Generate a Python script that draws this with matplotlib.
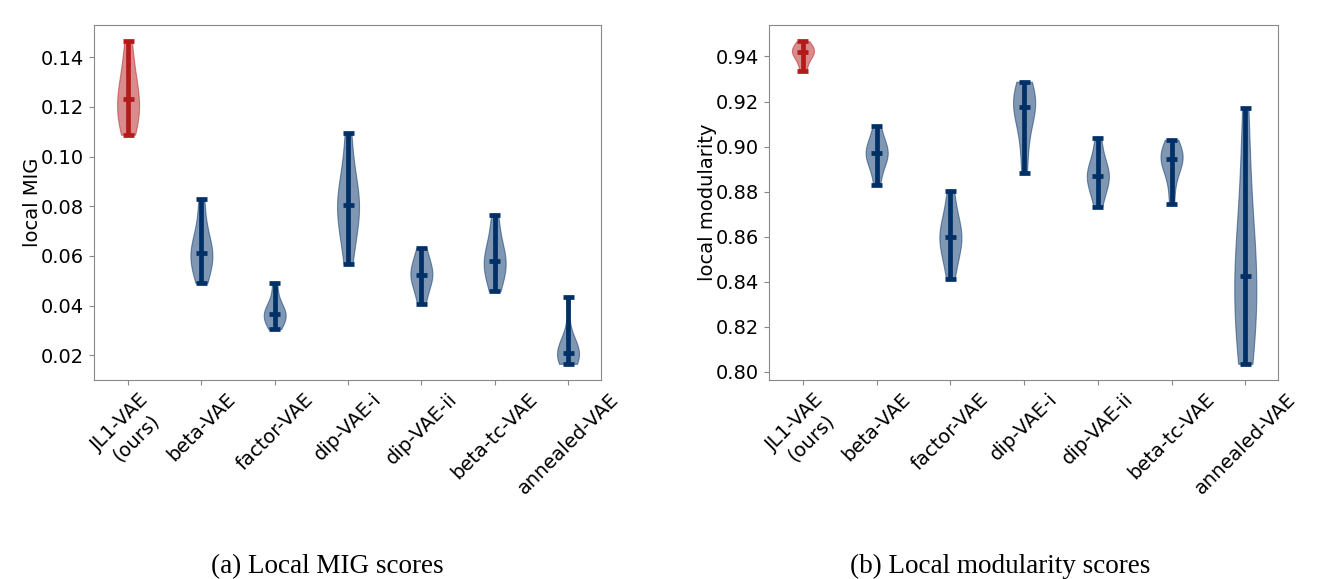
import matplotlib
matplotlib.use('Agg')
import matplotlib.pyplot as plt

# METHOD NAMES
methods = ['JL1-VAE\n(ours)', 'beta-VAE', 'factor-VAE', 'dip-VAE-i', 'dip-VAE-ii', 'beta-tc-VAE', 'annealed-VAE']

# LOCAL MIG SCORES PER METHOD (estimated runs)
mig_jl1 = [0.1088, 0.1135, 0.1175, 0.1210, 0.1252, 0.1290, 0.1360, 0.1465]
mig_beta = [0.0491, 0.0545, 0.0580, 0.0605, 0.0621, 0.0650, 0.0720, 0.0831]
mig_factor = [0.0305, 0.0330, 0.0350, 0.0362, 0.0370, 0.0385, 0.0420, 0.0491]
mig_dip1 = [0.0569, 0.0680, 0.0750, 0.0795, 0.0813, 0.0860, 0.0940, 0.1095]
mig_dip2 = [0.0406, 0.0460, 0.0500, 0.0518, 0.0530, 0.0555, 0.0590, 0.0633]
mig_betatc = [0.0457, 0.0510, 0.0545, 0.0570, 0.0592, 0.0620, 0.0680, 0.0765]
mig_annealed = [0.0165, 0.0185, 0.0198, 0.0204, 0.0212, 0.0225, 0.0270, 0.0434]

# LOCAL MODULARITY SCORES PER METHOD (estimated runs)
mod_jl1 = [0.9337, 0.9375, 0.9405, 0.9415, 0.9421, 0.9435, 0.9450, 0.9468]
mod_beta = [0.8830, 0.8905, 0.8945, 0.8965, 0.8975, 0.8995, 0.9030, 0.9091]
mod_factor = [0.8414, 0.8500, 0.8560, 0.8590, 0.8606, 0.8640, 0.8700, 0.8801]
mod_dip1 = [0.8885, 0.9020, 0.9120, 0.9165, 0.9185, 0.9210, 0.9250, 0.9288]
mod_dip2 = [0.8732, 0.8800, 0.8845, 0.8862, 0.8878, 0.8900, 0.8950, 0.9038]
mod_betatc = [0.8744, 0.8850, 0.8915, 0.8938, 0.8950, 0.8965, 0.8990, 0.9031]
mod_annealed = [0.8036, 0.8100, 0.8200, 0.8350, 0.8420, 0.8432, 0.8550, 0.8700, 0.8900, 0.9170]

mig_scores = [mig_jl1, mig_beta, mig_factor, mig_dip1, mig_dip2, mig_betatc, mig_annealed]
mod_scores = [mod_jl1, mod_beta, mod_factor, mod_dip1, mod_dip2, mod_betatc, mod_annealed]

RED = '#b31b1b'
BLUE = '#003066'


def violinpanel(ax, scores, ylabel):
    positions = list(range(1, len(scores) + 1))
    colors = [RED] + [BLUE] * (len(scores) - 1)
    parts = ax.violinplot(scores, positions=positions, widths=0.3, showmedians=True)
    for body, col in zip(parts['bodies'], colors):
        body.set_facecolor(col)
        body.set_edgecolor(col)
        body.set_linewidth(0.8)
        body.set_alpha(0.5)
    for key in ['cbars', 'cmins', 'cmaxes', 'cmedians']:
        parts[key].set_color(colors)
        parts[key].set_linewidth(3.4)
    ax.set_xticks(positions)
    ax.set_xticklabels(methods, rotation=45)
    ax.set_xlim(0.535, 7.45)
    ax.set_ylabel(ylabel, fontsize=14, labelpad=-1)
    ax.tick_params(labelsize=14, color='#888888')
    for sp in ax.spines.values():
        sp.set_color('#888888')


fig = plt.figure(figsize=(13.18, 5.79), dpi=100)
ax1 = fig.add_axes([0.0713, 0.3437, 0.3847, 0.6131])
ax2 = fig.add_axes([0.5832, 0.3437, 0.3868, 0.6131])

violinpanel(ax1, mig_scores, 'local MIG')
violinpanel(ax2, mod_scores, 'local modularity')

# CAPTIONS
fig.text(0.2485, 0.022, '(a) Local MIG scores', ha='center', va='center',
         fontsize=19.5, family='Liberation Serif')
fig.text(0.759, 0.022, '(b) Local modularity scores', ha='center', va='center',
         fontsize=19.5, family='Liberation Serif')

fig.savefig('out.png', dpi=100)
